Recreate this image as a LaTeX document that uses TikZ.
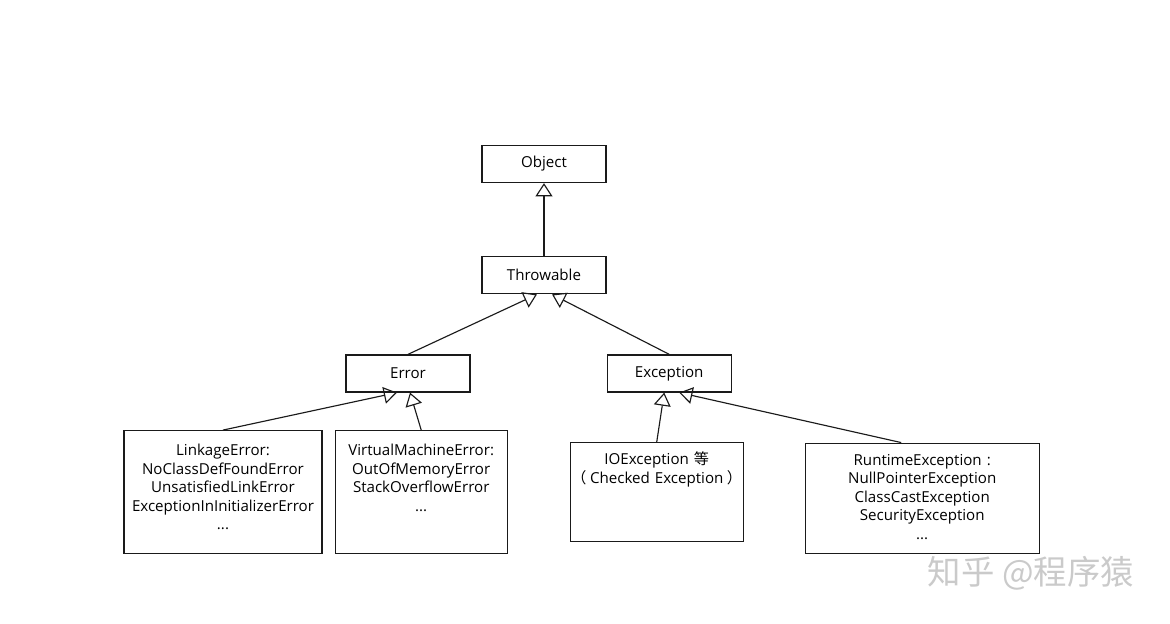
\documentclass[tikz,border=0pt]{standalone}
\usepackage{fontspec}
\setmainfont{Open Sans}
\newfontfamily\cjk{Noto Sans CJK SC}
\usepackage{xcolor}
\definecolor{lineDark}{HTML}{1A1A1A}
\definecolor{markGray}{HTML}{CACACA}
\usetikzlibrary{positioning,arrows.meta}
\tikzset{
  classBox/.style={
    rectangle,
    draw=lineDark,
    line width=0.7pt,
    minimum width=2.48cm,
    minimum height=0.74cm,
    font=\fontsize{8.6pt}{10.5pt}\selectfont,
    align=center
 },
  listBox/.style={
    rectangle,
    draw=lineDark,
    line width=0.7pt,
    inner xsep=0pt,
    inner ysep=0pt,
    text height=0.46cm,
    font=\fontsize{8.6pt}{10.5pt}\selectfont,
    align=center
 },
  inheritArrow/.style={
    -{Triangle[open,length=7.5pt,width=9.6pt]},
    line width=0.65pt,
    color=lineDark
 }
}

\begin{document}
\begin{tikzpicture}

            \useasboundingbox (-10.88,3.28) rectangle (12.52,-9.18);

            % Root and Throwable
            \node[classBox] (object) {Object};
            \node[classBox, below=1.46cm of object] (throwable) {Throwable};

            % Error / Exception
            \node[classBox, below=1.2cm of throwable, xshift=-2.72cm] (error) {Error};
            \node[classBox, right=2.72cm of error] (exception) {Exception};

            % Error subclasses
            \node[listBox, text width=3.96cm, text height=0.5cm, text depth=1.96cm,
                  below=0.75cm of error, xshift=-3.7cm] (linkage)
                 {LinkageError:\\NoClassDefFoundError\\UnsatisfiedLinkError\\ExceptionInInitializerError\\...};
            \node[listBox, text width=3.44cm, text height=0.5cm, text depth=1.96cm,
                  right=0.24cm of linkage] (vmerror)
                 {VirtualMachineError:\\OutOfMemoryError\\StackOverflowError\\...};

            % Exception subclasses
            \node[listBox, text width=3.46cm, text height=0.44cm, text depth=1.54cm,
                  below=0.99cm of exception, xshift=-0.25cm] (ioexc)
                 {IOException {\cjk 等}\\\mbox{{\cjk （}\hspace{2pt}Checked Exception\hspace{2pt}{\cjk ）}}};
            \node[listBox, text width=4.68cm, text height=0.44cm, text depth=1.76cm,
                  below=1cm of exception, xshift=5.06cm] (runtime)
                 {RuntimeException :\\NullPointerException\\ClassCastException\\SecurityException\\...};

            % watermark
            \node[font=\cjk\fontsize{19pt}{19pt}\selectfont, text=markGray] (mark) at (9.74,-8.18) {知乎 @程序猿};

            % Arrows up the hierarchy
            \draw[inheritArrow] (throwable) -- (object);
            \draw[inheritArrow] (error.north) -- ([xshift=-0.14cm]throwable.south);
            \draw[inheritArrow] (exception.north) -- ([xshift=0.16cm]throwable.south);
            \draw[inheritArrow] (linkage.north) -- ([xshift=-0.22cm]error.south);
            \draw[inheritArrow] (vmerror.north) -- ([xshift=0.04cm]error.south);
            \draw[inheritArrow] (ioexc.north) -- ([xshift=-0.1cm]exception.south);
            \draw[inheritArrow] ([xshift=-0.42cm]runtime.north) -- ([xshift=0.2cm]exception.south);

        \end{tikzpicture}
\end{document}
